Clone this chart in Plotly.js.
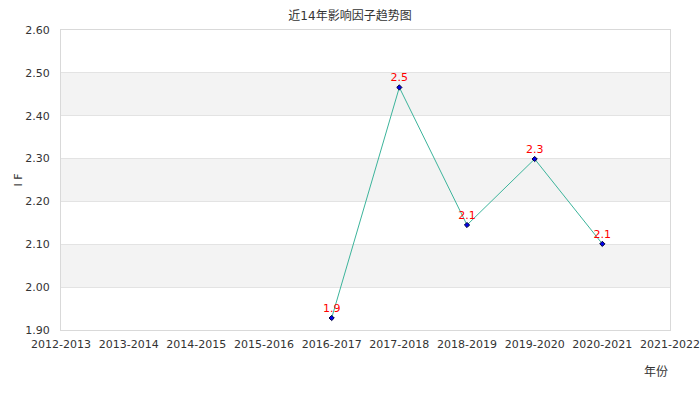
<!DOCTYPE html>
<html>
<head>
<meta charset="utf-8">
<script src="https://cdn.plot.ly/plotly-3.0.1.min.js"></script>
<style>
  html, body { margin: 0; padding: 0; background: #fff; }
  #chart { width: 700px; height: 400px; }
</style>
</head>
<body>
<div id="chart"></div>
<script>
// category labels for the x axis
var years = ['2012-2013', '2013-2014', '2014-2015', '2015-2016', '2016-2017',
             '2017-2018', '2018-2019', '2019-2020', '2020-2021', '2021-2022'];

// impact factor values
var ifYears = ['2016-2017', '2017-2018', '2018-2019', '2019-2020', '2020-2021'];
var ifValues = [1.928, 2.466, 2.145, 2.299, 2.101];
var ifLabels = ['1.9', '2.5', '2.1', '2.3', '2.1'];

var yTicks = [1.90, 2.00, 2.10, 2.20, 2.30, 2.40, 2.50, 2.60];

var font = 'DejaVu Sans, "Noto Sans CJK SC", sans-serif';

// alternate shaded bands between gridlines
var shapes = [];
for (var i = 1; i < yTicks.length - 1; i += 2) {
    shapes.push({
        type: 'rect',
        xref: 'paper', yref: 'y',
        x0: 0, x1: 1,
        y0: yTicks[i], y1: yTicks[i + 1],
        fillcolor: '#f3f3f3',
        line: {width: 0},
        layer: 'below'
    });
}

var plot_data = [{
    x: ifYears,
    y: ifValues,
    text: ifLabels,
    type: 'scatter',
    mode: 'lines+markers+text',
    textposition: 'top center',
    textfont: {color: '#ff0000', size: 11, family: font},
    line: {color: '#3cb49b', width: 1},
    marker: {
        symbol: 'diamond',
        size: 4,
        color: '#0000ee',
        line: {color: '#000033', width: 1}
    },
    hoverinfo: 'x+y',
    cliponaxis: false
}];

var layout = {
    width: 700,
    height: 400,
    margin: {l: 61, r: 30, t: 30, b: 70},
    paper_bgcolor: '#ffffff',
    plot_bgcolor: '#ffffff',
    showlegend: false,
    font: {family: font, size: 11, color: '#333333'},
    title: {
        text: '近14年影响因子趋势图',
        font: {size: 12, color: '#333333', family: font},
        x: 0.5, xanchor: 'center',
        y: 0.96, yanchor: 'middle'
    },
    shapes: shapes,
    xaxis: {
        type: 'category',
        categoryorder: 'array',
        categoryarray: years,
        tickvals: years,
        range: [0, years.length - 1],
        showgrid: false,
        showline: true,
        mirror: true,
        linecolor: '#d9d9d9',
        linewidth: 1,
        ticks: 'outside',
        ticklen: 4,
        tickcolor: 'rgba(0,0,0,0)',
        tickfont: {size: 11, color: '#333333'},
        fixedrange: true
    },
    yaxis: {
        range: [yTicks[0], yTicks[yTicks.length - 1]],
        tickvals: yTicks,
        ticktext: yTicks.map(function(v) { return v.toFixed(2); }),
        showgrid: true,
        gridcolor: '#e3e3e3',
        zeroline: false,
        showline: true,
        mirror: true,
        linecolor: '#d9d9d9',
        linewidth: 1,
        ticks: 'outside',
        ticklen: 8,
        tickcolor: 'rgba(0,0,0,0)',
        tickfont: {size: 11, color: '#333333'},
        title: {text: 'I F', font: {size: 11, color: '#333333'}, standoff: 0},
        automargin: false,
        fixedrange: true
    },
    annotations: [{
        text: '年份',
        xref: 'paper', yref: 'paper',
        x: 1, y: -0.14,
        xanchor: 'right', yanchor: 'middle',
        showarrow: false,
        font: {size: 12, color: '#333333', family: font}
    }]
};

var config = {displayModeBar: false, staticPlot: true};
Plotly.newPlot(document.getElementById('chart'), plot_data, layout, config);
</script>
</body>
</html>
